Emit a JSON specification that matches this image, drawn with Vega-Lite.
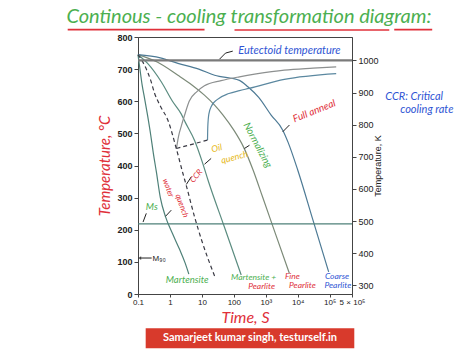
{
  "$schema": "https://vega.github.io/schema/vega-lite/v6.json",
  "width": 214,
  "height": 257,
  "autosize": {"type": "none"},
  "padding": {"left": 138, "top": 37, "right": 122, "bottom": 61},
  "background": "white",
  "title": {"text": "Continous - cooling transformation diagram:", "fontSize": 20, "font": "Lato", "fontStyle": "italic", "fontWeight": "normal", "color": "#4caf50", "offset": 2, "anchor": "middle", "dx": 4},
  "config": {
    "view": {"stroke": "#444", "strokeWidth": 1},
    "axis": {"grid": false, "domainColor": "#444", "tickColor": "#444", "labelFont": "Liberation Sans", "labelFontSize": 9, "labelColor": "#222"}
  },
  "resolve": {"scale": {"y": "independent"}},
  "layer": [
    {
      "encoding": {
        "x": {"field": "t", "type": "quantitative", "scale": {"type": "log", "domain": [0.1, 500000], "nice": false},
          "axis": {"values": [0.1, 1, 10, 100, 1000, 10000, 100000, 500000], "labelExpr": "datum.value < 0.5 ? '0.1' : datum.value < 5 ? '1' : datum.value < 50 ? '10' : datum.value < 500 ? '100' : datum.value < 5000 ? '10³' : datum.value < 50000 ? '10⁴' : datum.value < 200000 ? '10⁵' : '5 × 10⁵'", "labelFontSize": 8, "tickSize": 3, "labelPadding": 1, "labelFlush": false, "labelOverlap": false, "title": "Time, S", "titleColor": "#e0303a", "titleFont": "Lato", "titleFontStyle": "italic", "titleFontWeight": "normal", "titleFontSize": 16, "titlePadding": 3}},
        "y": {"field": "T", "type": "quantitative", "scale": {"domain": [0, 800], "nice": false, "zero": false},
          "axis": {"values": [0, 100, 200, 300, 400, 500, 600, 700, 800], "tickSize": 4, "labelFontWeight": "bold", "labelPadding": 2, "title": "Temperature, °C", "titleColor": "#e0303a", "titleFont": "Lato", "titleFontStyle": "italic", "titleFontWeight": "normal", "titleFontSize": 15, "titlePadding": 4}}
      },
      "layer": [
        {
          "data": {"values": [
            {"s": "wq", "t": 0.1, "T": 745}, {"s": "wq", "t": 0.115, "T": 700}, {"s": "wq", "t": 0.135, "T": 650}, {"s": "wq", "t": 0.16, "T": 610}, {"s": "wq", "t": 0.2, "T": 555}, {"s": "wq", "t": 0.25, "T": 495}, {"s": "wq", "t": 0.3, "T": 440}, {"s": "wq", "t": 0.376, "T": 380}, {"s": "wq", "t": 0.5, "T": 300}, {"s": "wq", "t": 0.73, "T": 240}, {"s": "wq", "t": 1.2, "T": 188}, {"s": "wq", "t": 2, "T": 139}, {"s": "wq", "t": 3, "T": 96}, {"s": "wq", "t": 3.9, "T": 62},
            {"s": "oq", "t": 0.1, "T": 745}, {"s": "oq", "t": 0.2, "T": 718}, {"s": "oq", "t": 0.54, "T": 660}, {"s": "oq", "t": 1.2, "T": 600}, {"s": "oq", "t": 2.27, "T": 560}, {"s": "oq", "t": 3, "T": 535}, {"s": "oq", "t": 5.9, "T": 478}, {"s": "oq", "t": 10.7, "T": 406}, {"s": "oq", "t": 15.5, "T": 355}, {"s": "oq", "t": 50, "T": 210}, {"s": "oq", "t": 170, "T": 59},
            {"s": "norm", "t": 0.1, "T": 745}, {"s": "norm", "t": 0.4, "T": 722}, {"s": "norm", "t": 1.78, "T": 681}, {"s": "norm", "t": 5, "T": 650}, {"s": "norm", "t": 12, "T": 619}, {"s": "norm", "t": 25, "T": 588}, {"s": "norm", "t": 46, "T": 557}, {"s": "norm", "t": 100, "T": 510}, {"s": "norm", "t": 200, "T": 458}, {"s": "norm", "t": 400, "T": 386}, {"s": "norm", "t": 800, "T": 301}, {"s": "norm", "t": 2000, "T": 188}, {"s": "norm", "t": 5500, "T": 64},
            {"s": "fa", "t": 0.1, "T": 745}, {"s": "fa", "t": 0.5, "T": 735}, {"s": "fa", "t": 1.78, "T": 718}, {"s": "fa", "t": 8, "T": 700}, {"s": "fa", "t": 25, "T": 681}, {"s": "fa", "t": 150, "T": 665}, {"s": "fa", "t": 275, "T": 645}, {"s": "fa", "t": 600, "T": 612}, {"s": "fa", "t": 1470, "T": 557}, {"s": "fa", "t": 3400, "T": 510}, {"s": "fa", "t": 5000, "T": 472}, {"s": "fa", "t": 10000, "T": 386}, {"s": "fa", "t": 30000, "T": 230}, {"s": "fa", "t": 93000, "T": 69},
            {"s": "ps", "t": 1.6, "T": 453}, {"s": "ps", "t": 1.85, "T": 490}, {"s": "ps", "t": 2.3, "T": 525}, {"s": "ps", "t": 2.9, "T": 558}, {"s": "ps", "t": 4, "T": 600}, {"s": "ps", "t": 7, "T": 630}, {"s": "ps", "t": 12, "T": 648}, {"s": "ps", "t": 40, "T": 664}, {"s": "ps", "t": 150, "T": 676}, {"s": "ps", "t": 500, "T": 685}, {"s": "ps", "t": 3800, "T": 697}, {"s": "ps", "t": 30000, "T": 703}, {"s": "ps", "t": 160000, "T": 707},
            {"s": "pf", "t": 15, "T": 479}, {"s": "pf", "t": 15.3, "T": 520}, {"s": "pf", "t": 16.5, "T": 560}, {"s": "pf", "t": 20, "T": 585}, {"s": "pf", "t": 30, "T": 605}, {"s": "pf", "t": 70, "T": 624}, {"s": "pf", "t": 150, "T": 633}, {"s": "pf", "t": 300, "T": 640}, {"s": "pf", "t": 3800, "T": 668}, {"s": "pf", "t": 160000, "T": 686}
          ]},
          "mark": {"type": "line", "interpolate": "monotone", "strokeWidth": 1.2},
          "encoding": {"color": {"field": "s", "type": "nominal", "legend": null, "scale": {"domain": ["wq", "oq", "norm", "fa", "ps", "pf"], "range": ["#4e8078", "#5b8c80", "#7c8a78", "#4d7a95", "#8d9090", "#5b88a0"]}}}
        },
        {
          "data": {"values": [
            {"s": "ccr", "t": 0.1, "T": 745}, {"s": "ccr", "t": 0.16, "T": 712}, {"s": "ccr", "t": 0.25, "T": 665}, {"s": "ccr", "t": 0.33, "T": 625}, {"s": "ccr", "t": 0.5, "T": 585}, {"s": "ccr", "t": 0.87, "T": 540}, {"s": "ccr", "t": 1.58, "T": 453}, {"s": "ccr", "t": 2.55, "T": 375}, {"s": "ccr", "t": 3.2, "T": 340}, {"s": "ccr", "t": 5.9, "T": 240}, {"s": "ccr", "t": 10, "T": 165}, {"s": "ccr", "t": 25, "T": 56},
            {"s": "pd", "t": 1.6, "T": 453}, {"s": "pd", "t": 15, "T": 479}
          ]},
          "mark": {"type": "line", "interpolate": "monotone", "strokeWidth": 1.2, "strokeDash": [4, 3], "color": "#3a3a44"},
          "encoding": {"detail": {"field": "s", "type": "nominal"}}
        },
        {
          "data": {"values": [{"t": 0.1, "T": 727}, {"t": 500000, "T": 727}]},
          "mark": {"type": "line", "strokeWidth": 2.2, "color": "#7a7a7a"},
          "encoding": {}
        },
        {
          "data": {"values": [{"t": 0.1, "T": 218}, {"t": 500000, "T": 218}]},
          "mark": {"type": "line", "strokeWidth": 1.2, "color": "#4e8078"},
          "encoding": {}
        },
        {
          "data": {"values": [
            {"a": "eut", "t": 92.5, "T": 756}, {"a": "eut", "t": 55, "T": 750}, {"a": "eut", "t": 35.7, "T": 731},
            {"a": "fa", "t": 5500, "T": 526}, {"a": "fa", "t": 3400, "T": 505},
            {"a": "norm", "t": 309, "T": 463}, {"a": "norm", "t": 215, "T": 453},
            {"a": "oq", "t": 19.5, "T": 422}, {"a": "oq", "t": 12.1, "T": 404},
            {"a": "ccr", "t": 4.67, "T": 365}, {"a": "ccr", "t": 3.25, "T": 341},
            {"a": "wq", "t": 1.1, "T": 261}, {"a": "wq", "t": 0.73, "T": 242},
            {"a": "ms", "t": 0.182, "T": 251}, {"a": "ms", "t": 0.144, "T": 224},
            {"a": "m90", "t": 0.268, "T": 112}, {"a": "m90", "t": 0.115, "T": 112}
          ]},
          "mark": {"type": "line", "strokeWidth": 1, "color": "#222"},
          "encoding": {"detail": {"field": "a", "type": "nominal"}}
        },
        {
          "data": {"values": [{"t": 0.112, "T": 112}]},
          "mark": {"type": "point", "shape": "triangle-left", "filled": true, "size": 14, "color": "#222"},
          "encoding": {}
        },
        {
          "data": {"values": [{"t": 0.00063, "t2": 12.1, "T": 823}, {"t": 105, "t2": 7350000, "T": 822}, {"t": 10500000, "t2": 162000000, "T": 823}]},
          "mark": {"type": "rule", "color": "#e0303a", "strokeWidth": 1.6},
          "encoding": {"x2": {"field": "t2"}}
        },
        {
          "data": {"values": [
            {"label": "Eutectoid temperature", "t": 5500, "T": 757},
            {"label": "CCR: Critical", "t": 44000000, "T": 613},
            {"label": "cooling rate", "t": 110000000, "T": 572}
          ]},
          "mark": {"type": "text", "font": "Lato", "fontStyle": "italic", "fontSize": 11, "color": "#2f55d4"},
          "encoding": {"text": {"field": "label"}}
        },
        {
          "data": {"values": [
            {"label": "Coarse", "t": 170000, "T": 56},
            {"label": "Pearlite", "t": 180000, "T": 27}
          ]},
          "mark": {"type": "text", "font": "Lato", "fontStyle": "italic", "fontSize": 8.5, "color": "#2f55d4"},
          "encoding": {"text": {"field": "label"}}
        },
        {
          "data": {"values": [
            {"label": "Pearlite", "t": 740, "T": 24},
            {"label": "Fine", "t": 6800, "T": 56},
            {"label": "Pearlite", "t": 14000, "T": 27}
          ]},
          "mark": {"type": "text", "font": "Lato", "fontStyle": "italic", "fontSize": 8.5, "color": "#e0303a"},
          "encoding": {"text": {"field": "label"}}
        },
        {
          "data": {"values": [
            {"label": "Martensite +", "t": 416, "T": 54}
          ]},
          "mark": {"type": "text", "font": "Lato", "fontStyle": "italic", "fontSize": 8.5, "color": "#4caf50"},
          "encoding": {"text": {"field": "label"}}
        },
        {
          "data": {"values": [
            {"label": "Martensite", "t": 3.46, "T": 44},
            {"label": "Ms", "t": 0.27, "T": 271}
          ]},
          "mark": {"type": "text", "font": "Lato", "fontStyle": "italic", "fontSize": 9.5, "color": "#4caf50"},
          "encoding": {"text": {"field": "label"}}
        },
        {
          "data": {"values": [{"label": "Full anneal", "t": 33000, "T": 569}]},
          "mark": {"type": "text", "font": "Lato", "fontStyle": "italic", "fontSize": 10, "color": "#e0303a", "angle": -22},
          "encoding": {"text": {"field": "label"}}
        },
        {
          "data": {"values": [{"label": "Normalizing", "t": 550, "T": 463}]},
          "mark": {"type": "text", "font": "Lato", "fontStyle": "italic", "fontSize": 10, "color": "#4caf50", "angle": 62},
          "encoding": {"text": {"field": "label"}}
        },
        {
          "data": {"values": [{"label": "Oil", "t": 29, "T": 454}, {"label": "quench", "t": 105, "T": 426}]},
          "mark": {"type": "text", "font": "Lato", "fontStyle": "italic", "fontSize": 9, "color": "#e6b820", "angle": -15},
          "encoding": {"text": {"field": "label"}}
        },
        {
          "data": {"values": [{"label": "CCR", "t": 6.8, "T": 366}]},
          "mark": {"type": "text", "font": "Lato", "fontStyle": "italic", "fontSize": 8, "color": "#e0303a", "angle": -50},
          "encoding": {"text": {"field": "label"}}
        },
        {
          "data": {"values": [{"label": "water", "t": 0.85, "T": 330}, {"label": "quench", "t": 2.3, "T": 274}]},
          "mark": {"type": "text", "font": "Lato", "fontStyle": "italic", "fontSize": 8, "color": "#e0303a", "angle": 70},
          "encoding": {"text": {"field": "label"}}
        },
        {
          "data": {"values": [{"label": "M₉₀", "t": 0.46, "T": 110}]},
          "mark": {"type": "text", "font": "Liberation Sans", "fontSize": 8, "color": "#222"},
          "encoding": {"text": {"field": "label"}}
        },
        {
          "data": {"values": [{"t": 0.174, "t2": 590000, "T": -107, "T2": -169}]},
          "mark": {"type": "rect", "color": "#d83a2c"},
          "encoding": {"x2": {"field": "t2"}, "y2": {"field": "T2"}}
        },
        {
          "data": {"values": [{"label": "Samarjeet kumar singh, testurself.in", "t": 321, "T": -138}]},
          "mark": {"type": "text", "font": "Lato", "fontWeight": "bold", "fontSize": 11, "color": "white"},
          "encoding": {"text": {"field": "label"}}
        }
      ]
    },
    {
      "data": {"values": [{"K": 300}]},
      "mark": {"type": "point", "opacity": 0},
      "encoding": {
        "y": {"field": "K", "type": "quantitative", "scale": {"domain": [273.15, 1073.15], "nice": false, "zero": false},
          "axis": {"orient": "right", "values": [300, 400, 500, 600, 700, 800, 900, 1000], "format": "d", "tickSize": 4, "labelPadding": 2, "title": "Temperature, K", "titleFont": "Liberation Sans", "titleFontSize": 9, "titleFontWeight": "normal", "titleColor": "#222", "titleAngle": 270, "titlePadding": 4}}
      }
    }
  ]
}
